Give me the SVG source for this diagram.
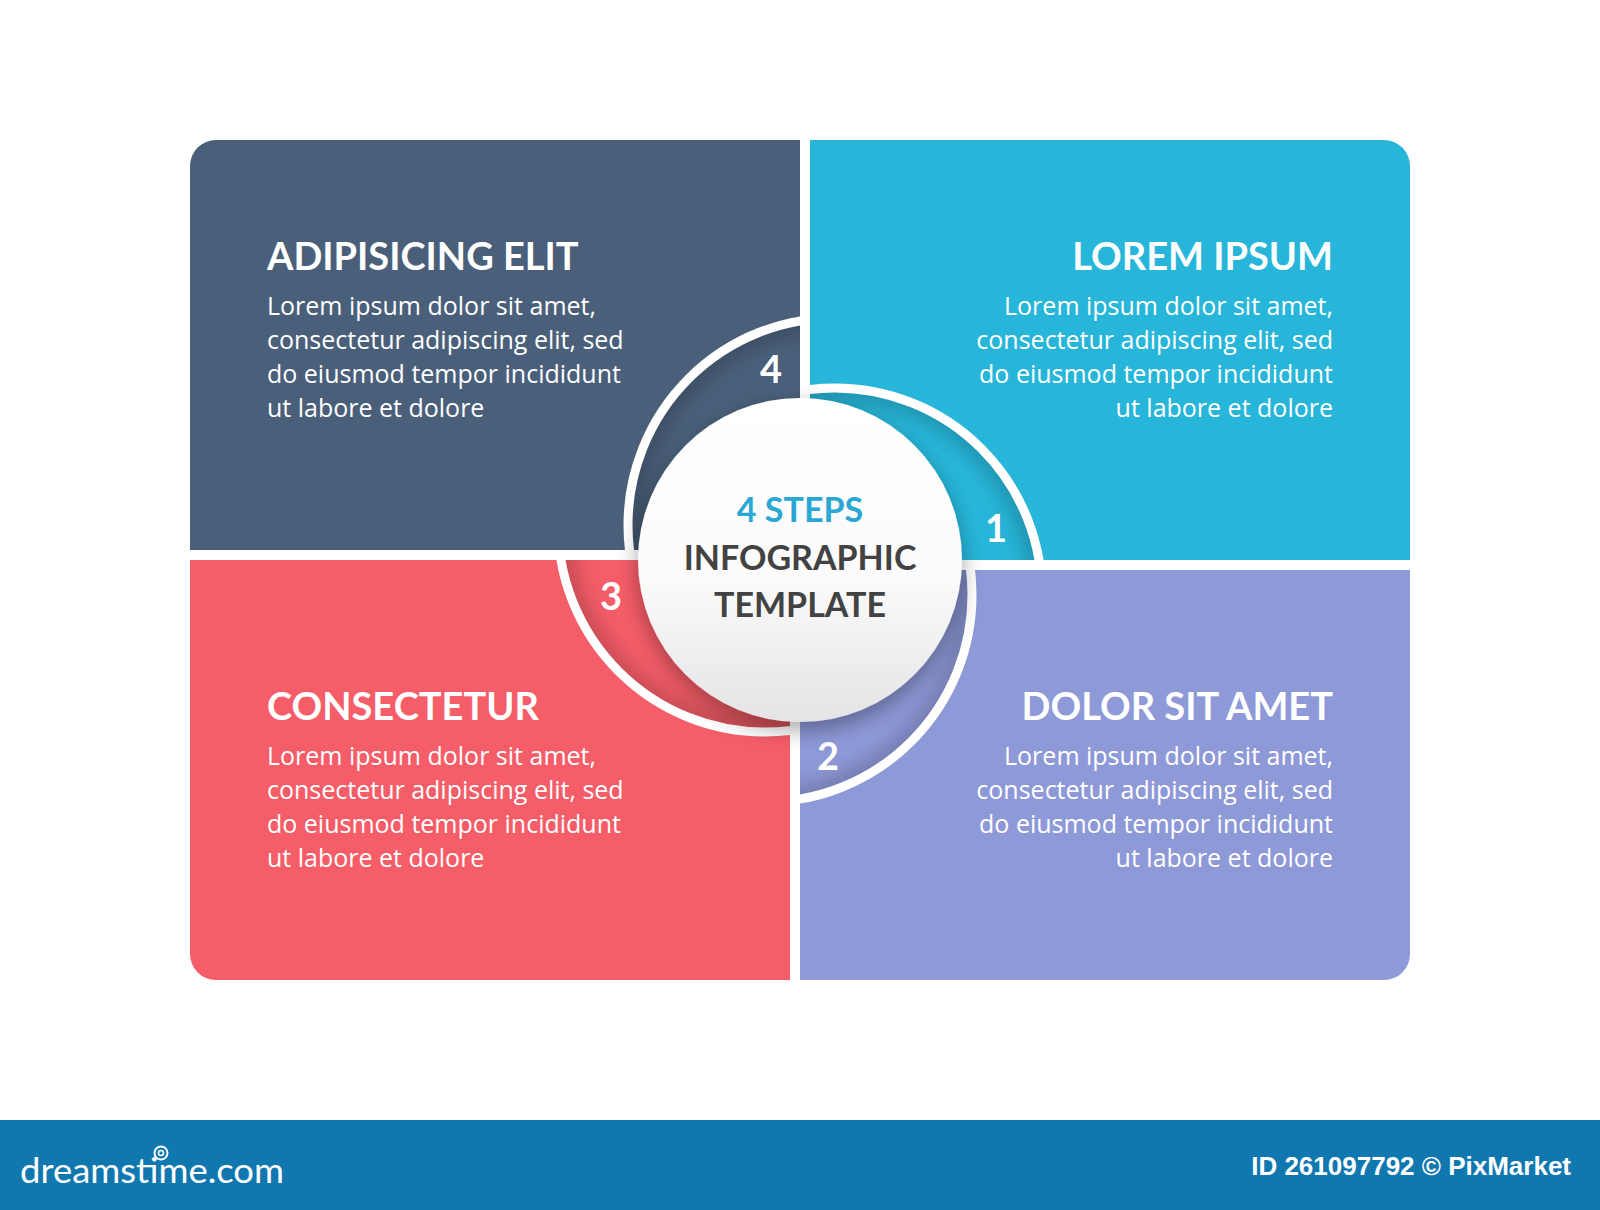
<svg xmlns="http://www.w3.org/2000/svg" width="1600" height="1210" viewBox="0 0 1600 1210">
  <style>
    .head { font-family: Lato, "Open Sans", "Liberation Sans", sans-serif; font-weight: 700; font-size: 38px; fill: #ffffff; }
    .body { font-family: "Open Sans", "Noto Sans", "Liberation Sans", sans-serif; font-size: 25px; fill: #ffffff; }
    .num { font-family: Lato, "Liberation Sans", sans-serif; font-weight: 700; font-size: 38px; fill: #ffffff; text-anchor: middle; }
    .ctr { font-family: Lato, "Liberation Sans", sans-serif; font-weight: 700; text-anchor: middle; font-size: 34px; }
    .ring { fill: none; stroke: #ffffff; stroke-width: 9; }
    .inner { fill: none; stroke: #000000; stroke-opacity: 0.2; stroke-width: 26; }
    .end { text-anchor: end; }
  </style>
  <defs>
    <filter id="blur" x="-20%" y="-20%" width="140%" height="140%">
      <feGaussianBlur stdDeviation="10"/>
    </filter>
    <filter id="cshadow" x="-30%" y="-30%" width="160%" height="160%">
      <feDropShadow dx="0" dy="8" stdDeviation="11" flood-color="#000000" flood-opacity="0.35"/>
    </filter>
    <linearGradient id="cgrad" x1="0" y1="0" x2="0" y2="1">
      <stop offset="0" stop-color="#ffffff"/>
      <stop offset="0.55" stop-color="#fbfbfb"/>
      <stop offset="1" stop-color="#e4e4e6"/>
    </linearGradient>
    <clipPath id="pTL"><path d="M190,166 A26,26 0 0 1 216,140 H800 V550 H190 Z"/></clipPath>
    <clipPath id="pTR"><path d="M810,140 H1384 A26,26 0 0 1 1410,166 V560 H810 Z"/></clipPath>
    <clipPath id="pBR"><path d="M800,570 H1410 V954 A26,26 0 0 1 1384,980 H800 Z"/></clipPath>
    <clipPath id="pBL"><path d="M190,560 H790 V980 H216 A26,26 0 0 1 190,954 Z"/></clipPath>
    <clipPath id="s1"><circle cx="835" cy="595" r="207"/></clipPath>
    <clipPath id="s2"><circle cx="765" cy="595" r="207"/></clipPath>
    <clipPath id="s3"><circle cx="765" cy="525" r="207"/></clipPath>
    <clipPath id="s4"><circle cx="835" cy="525" r="207"/></clipPath>
  </defs>

  <rect width="1600" height="1210" fill="#ffffff"/>

  <!-- Panel 4 (top-left) -->
  <g id="node-adipisicing">
    <path d="M190,166 A26,26 0 0 1 216,140 H800 V550 H190 Z" fill="#4a607a"/>
    <g clip-path="url(#pTL)">
      <g clip-path="url(#s4)"><circle class="inner" cx="835" cy="525" r="207" filter="url(#blur)"/></g>
      <circle class="ring" cx="835" cy="525" r="207"/>
    </g>
    <text class="head" x="267" y="270">ADIPISICING ELIT</text>
    <text class="body" x="267" y="315">Lorem ipsum dolor sit amet,</text>
    <text class="body" x="267" y="349">consectetur adipiscing elit, sed</text>
    <text class="body" x="267" y="383">do eiusmod tempor incididunt</text>
    <text class="body" x="267" y="417">ut labore et dolore</text>
    <text class="num" x="771" y="383">4</text>
  </g>

  <!-- Panel 1 (top-right) -->
  <g id="node-lorem">
    <path d="M810,140 H1384 A26,26 0 0 1 1410,166 V560 H810 Z" fill="#27b6d9"/>
    <g clip-path="url(#pTR)">
      <g clip-path="url(#s1)"><circle class="inner" cx="835" cy="595" r="207" filter="url(#blur)"/></g>
      <circle class="ring" cx="835" cy="595" r="207"/>
    </g>
    <text class="head end" x="1333" y="270">LOREM IPSUM</text>
    <text class="body end" x="1333" y="315">Lorem ipsum dolor sit amet,</text>
    <text class="body end" x="1333" y="349">consectetur adipiscing elit, sed</text>
    <text class="body end" x="1333" y="383">do eiusmod tempor incididunt</text>
    <text class="body end" x="1333" y="417">ut labore et dolore</text>
    <text class="num" x="996" y="542">1</text>
  </g>

  <!-- Panel 2 (bottom-right) -->
  <g id="node-dolor">
    <path d="M800,570 H1410 V954 A26,26 0 0 1 1384,980 H800 Z" fill="#8e99d8"/>
    <g clip-path="url(#pBR)">
      <g clip-path="url(#s2)"><circle class="inner" cx="765" cy="595" r="207" filter="url(#blur)"/></g>
      <circle class="ring" cx="765" cy="595" r="207"/>
    </g>
    <text class="head end" x="1333" y="720">DOLOR SIT AMET</text>
    <text class="body end" x="1333" y="765">Lorem ipsum dolor sit amet,</text>
    <text class="body end" x="1333" y="799">consectetur adipiscing elit, sed</text>
    <text class="body end" x="1333" y="833">do eiusmod tempor incididunt</text>
    <text class="body end" x="1333" y="867">ut labore et dolore</text>
    <text class="num" x="828" y="770">2</text>
  </g>

  <!-- Panel 3 (bottom-left) -->
  <g id="node-consectetur">
    <path d="M190,560 H790 V980 H216 A26,26 0 0 1 190,954 Z" fill="#f55d68"/>
    <g clip-path="url(#pBL)">
      <g clip-path="url(#s3)"><circle class="inner" cx="765" cy="525" r="207" filter="url(#blur)"/></g>
      <circle class="ring" cx="765" cy="525" r="207"/>
    </g>
    <text class="head" x="267" y="720">CONSECTETUR</text>
    <text class="body" x="267" y="765">Lorem ipsum dolor sit amet,</text>
    <text class="body" x="267" y="799">consectetur adipiscing elit, sed</text>
    <text class="body" x="267" y="833">do eiusmod tempor incididunt</text>
    <text class="body" x="267" y="867">ut labore et dolore</text>
    <text class="num" x="611" y="610">3</text>
  </g>

  <!-- Center -->
  <g id="node-center">
    <circle cx="800" cy="560" r="162" fill="url(#cgrad)" filter="url(#cshadow)"/>
    <text class="ctr" x="800" y="522" fill="#2aa8d3">4 STEPS</text>
    <text class="ctr" x="800" y="570" fill="#424242">INFOGRAPHIC</text>
    <text class="ctr" x="800" y="617" fill="#424242">TEMPLATE</text>
  </g>

  <g id="connectors"></g>

  <!-- Footer bar -->
  <g id="footer">
    <rect x="0" y="1120" width="1600" height="90" fill="#1077af"/>
    <text x="20" y="1183" font-family="Lato, 'Open Sans', sans-serif" font-size="34" fill="#ffffff" textLength="264" lengthAdjust="spacingAndGlyphs">dreamstime.com</text>
    <circle cx="161" cy="1153" r="6.5" fill="none" stroke="#ffffff" stroke-width="2"/>
    <circle cx="161" cy="1153" r="2.5" fill="none" stroke="#ffffff" stroke-width="1.6"/>
    <text x="1571" y="1175" text-anchor="end" font-family="'Liberation Sans', Arial, sans-serif" font-weight="700" font-size="26" fill="#ffffff">ID 261097792 © PixMarket</text>
  </g>
</svg>
